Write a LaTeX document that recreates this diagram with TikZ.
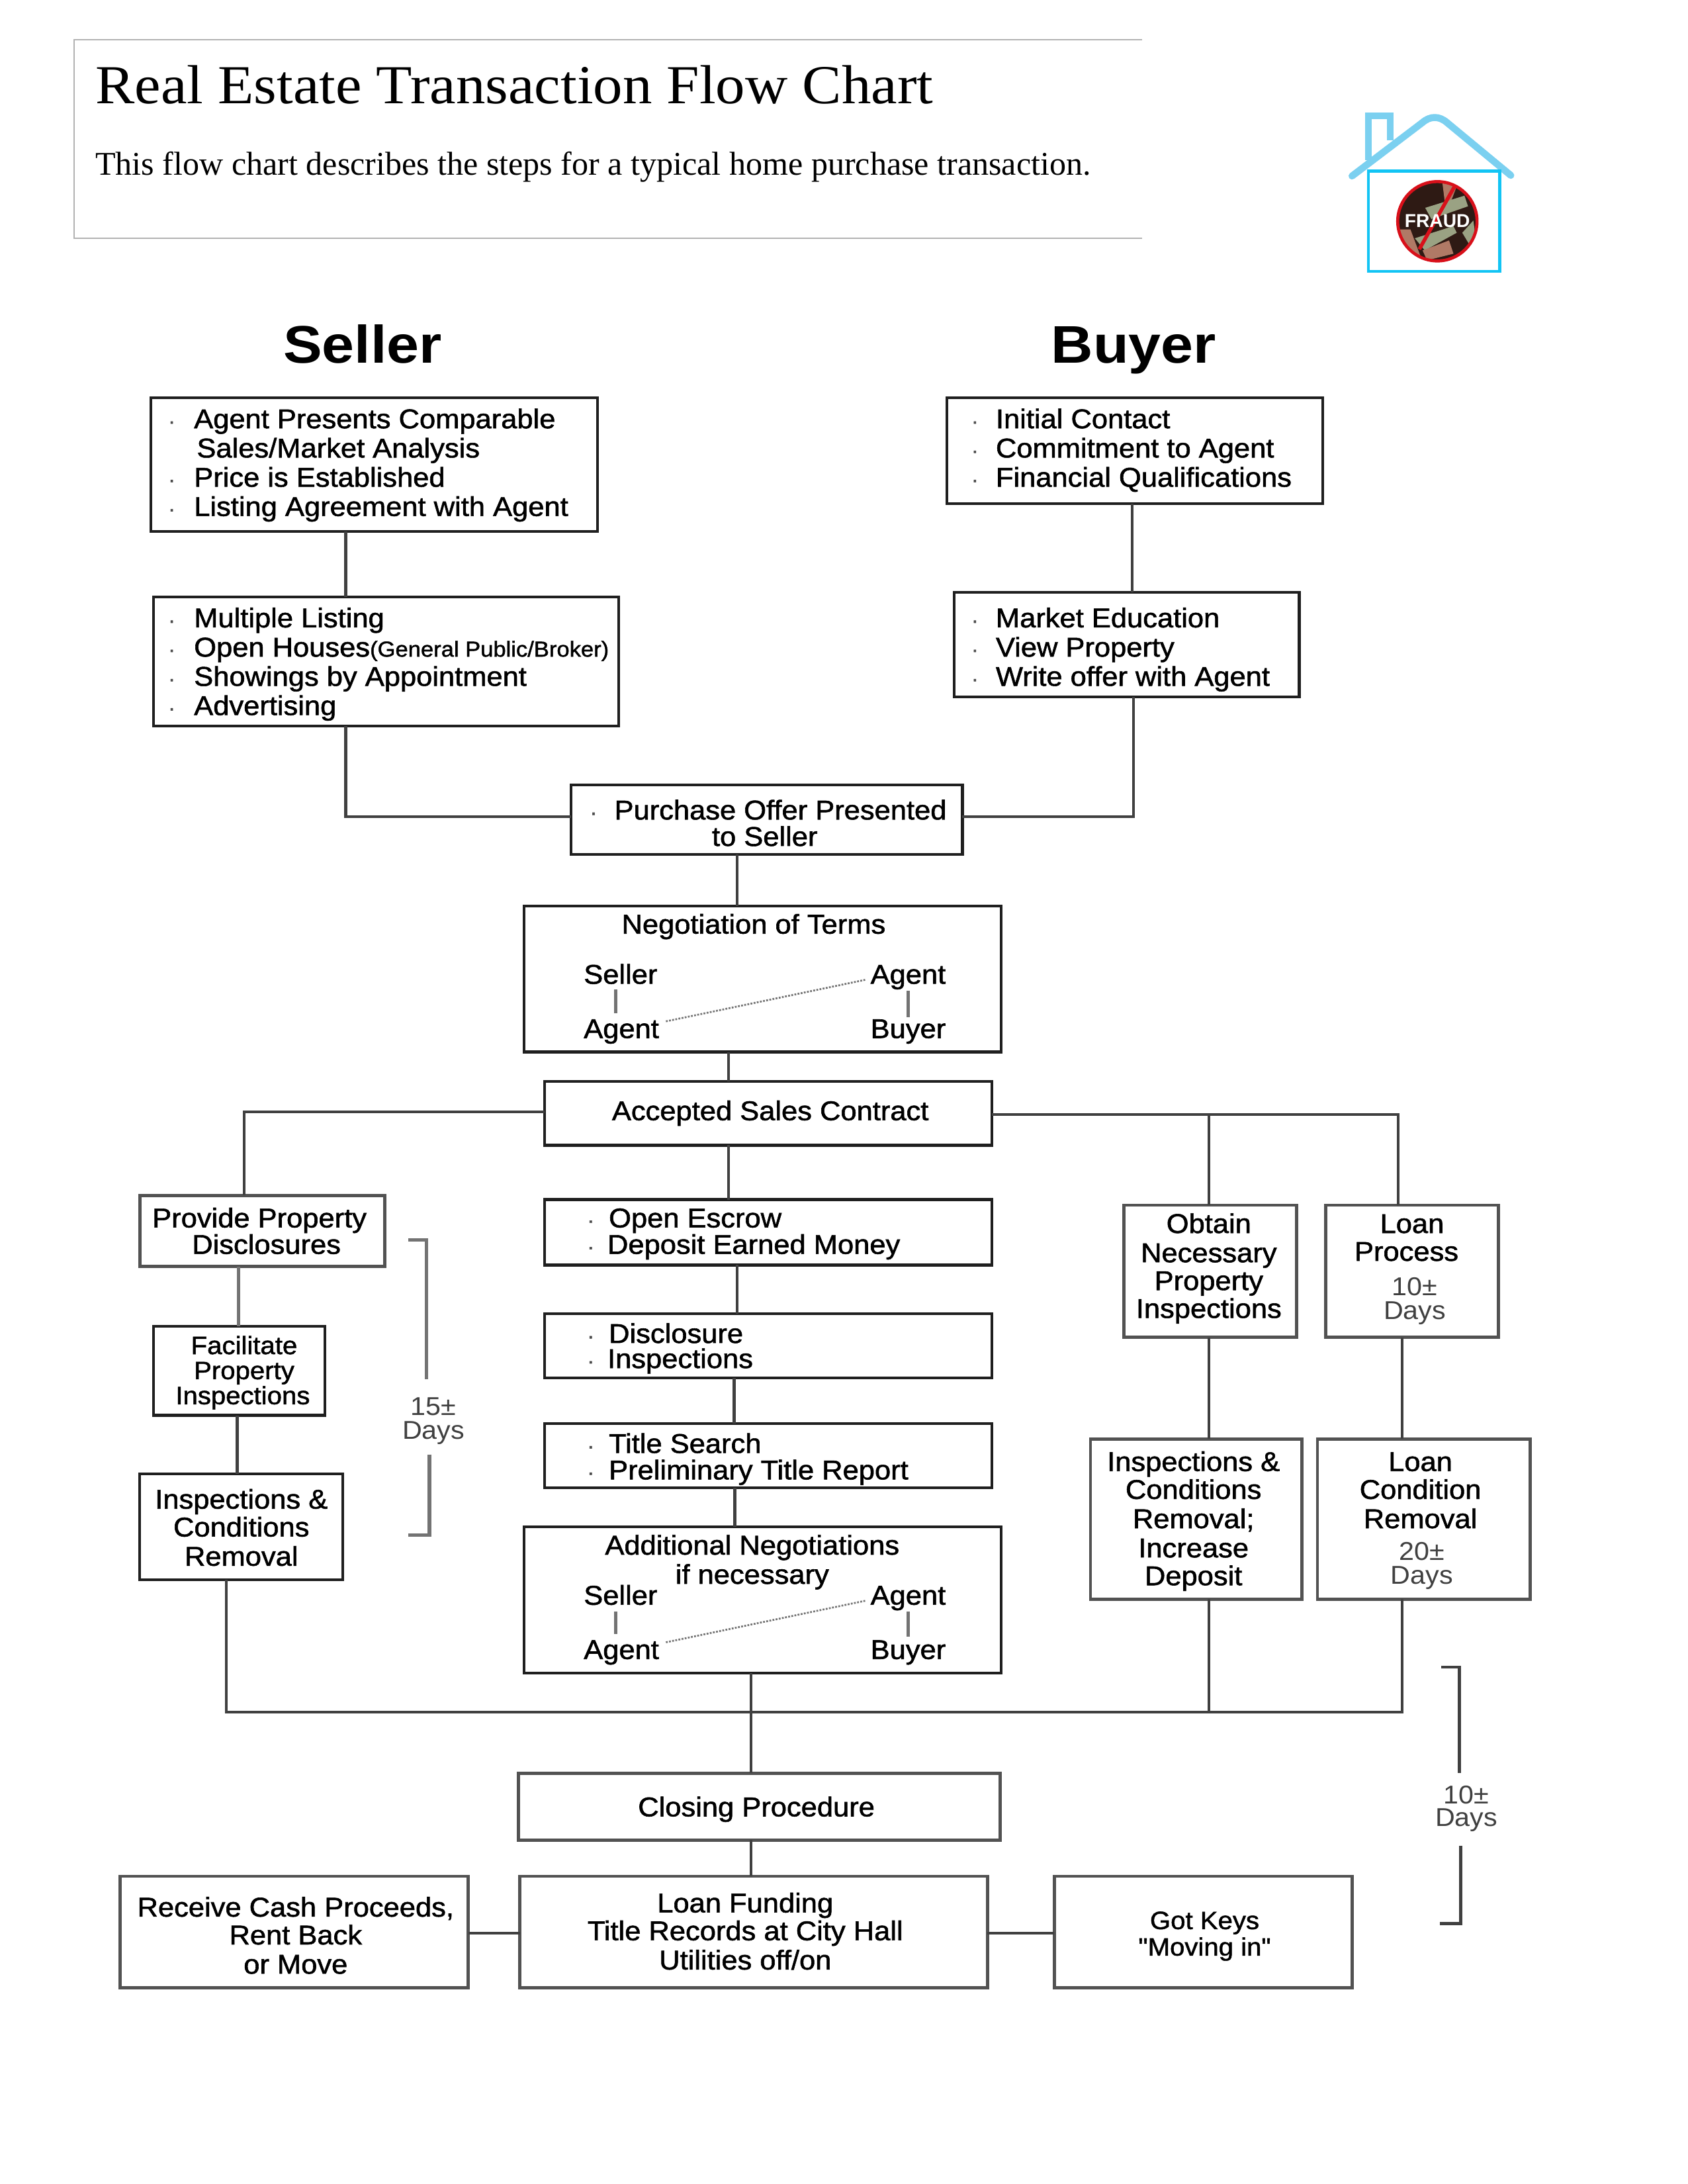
\documentclass[tikz,border=0pt]{standalone}
\usepackage{fontspec}
\setmainfont{Liberation Sans}
\newfontfamily\txt[FakeStretch=1.06,FakeBold=1.4]{Liberation Sans}
\newfontfamily\thin[FakeStretch=1.06]{Liberation Sans}
\newfontfamily\heavy[FakeStretch=1.1]{Liberation Sans Bold}
\newfontfamily\fr{Liberation Sans Bold}
\newfontfamily\cam{Liberation Serif}
\newfontfamily\camw[FakeStretch=1.07]{Liberation Serif}
\newcommand{\fs}[1]{\fontsize{#1}{#1}\selectfont}
\newcounter{tn}
\newcommand{\tl}[3]{\stepcounter{tn}\node[lab,anchor=base west] (t\arabic{tn}) at (#1,#2) {#3};}
\newcommand{\tc}[3]{\stepcounter{tn}\node[lab,anchor=base] (t\arabic{tn}) at (#1,#2) {#3};}
\newcommand{\tg}[3]{\stepcounter{tn}\node[lab,anchor=base,text=black!75,font=\thin\fs{18.5}] (t\arabic{tn}) at (#1,#2) {#3};}
\newcommand{\dotb}[2]{\stepcounter{tn}\node[lab,anchor=base,text=black!70,font=\txt\fs{15}] (t\arabic{tn}) at (#1,#2) {·};}
\newcommand{\bx}[6][]{\node[boxs,minimum width=#5-#3,minimum height=#6-#4,#1] (#2) at ({(#3+#5)/2},{(#4+#6)/2}) {};}
\definecolor{roofc}{HTML}{7BD0F0}
\definecolor{wallc}{HTML}{12C4F4}
\definecolor{ringc}{HTML}{D8101A}
\definecolor{billc}{HTML}{9AA283}
\definecolor{skinc}{HTML}{B07A66}
\definecolor{darkc}{HTML}{2E1A14}
\tikzset{
 lab/.style={inner sep=0pt,outer sep=0pt,font=\txt\fs{19.5},text=black},
 boxs/.style={draw=black!88,line width=2pt,inner sep=0pt,outer sep=0pt,fill=white},
 gbox/.style={draw=black!68,line width=2.2pt},
 conn/.style={draw=black!75,line width=2pt},
 conng/.style={draw=black!55,line width=2.6pt}
}
\begin{document}
\begin{tikzpicture}[x=1pt,y=-1pt]
\useasboundingbox (-0.4,-0.6) rectangle (1211.8,1568.1);
% header
\coordinate (h0) at (820,28); \coordinate (h1) at (53,28);
\coordinate (h2) at (53,170.5); \coordinate (h3) at (820,170.5);
\draw[draw=black!30,line width=0.9pt] (h0) -- (h1) -- (h2) -- (h3);
\node[inner sep=0pt,anchor=base west,font=\camw\fs{39.5}] (title) at (68,74) {Real Estate Transaction Flow Chart};
\node[inner sep=0pt,anchor=base west,font=\cam\fs{23.8}] (sub) at (68,125) {This flow chart describes the steps for a typical home purchase transaction.};
% house
\begin{scope}[shift={(926.5,61.2)},x=0.15845pt,y=-0.15845pt]
\draw[roofc,line width=5pt] (355,335) -- (355,135) -- (453,135) -- (453,245);
\draw[roofc,line width=5pt,line cap=round,line join=round] (280,408) -- (600,165) .. controls (635,135) and (675,135) .. (710,165) -- (1000,405);
\draw[wallc,line width=2.1pt] (355,385) rectangle (950,840);
\begin{scope}
\clip (667,613) circle [radius=28.5pt];
\fill[darkc] (480,430) rectangle (860,800);
\fill[skinc] (490,650) -- (545,650) -- (590,770) -- (530,770) -- cycle;
\fill[skinc] (690,440) -- (760,440) -- (730,520) -- (700,520) -- cycle;
\fill[billc] (612,552) -- (790,497) -- (806,545) -- (640,603) -- cycle;
\fill[billc] (565,690) -- (740,635) -- (755,665) -- (610,745) -- cycle;
\fill[billc] (780,665) -- (830,610) -- (840,680) -- (810,715) -- cycle;
\fill[skinc] (600,745) -- (720,700) -- (740,760) -- (620,790) -- cycle;
\end{scope}
\draw[ringc,line width=2.2pt] (667,613) circle [radius=28.5pt];
\draw[ringc,line width=2.6pt] (745,455) -- (585,740);
\node[inner sep=0pt,text=white,font=\fr\fs{13.4}] (fraud) at (667,613) {FRAUD};
\end{scope}
% heads
\node[inner sep=0pt,anchor=base,font=\heavy\fs{38}] (hs) at (260,260) {Seller};
\node[inner sep=0pt,anchor=base,font=\heavy\fs{38}] (hb) at (814,260) {Buyer};
% boxes
\bx{S1}{108}{285}{429}{381}
\bx{S2}{110}{428}{444}{521}
\bx{B1}{680}{285}{950}{361}
\bx{B2}{685}{425}{933}{500}
\bx{P}{410}{563}{691}{613}
\bx{N}{376}{650}{719}{755}
\bx{A}{391}{776}{712}{822}
\bx[gbox]{D1}{100}{858}{276}{909}
\bx{D2}{110}{952}{233}{1016}
\bx{D3}{100}{1058}{246}{1134}
\bx{C1}{391}{861}{712}{908}
\bx{C2}{391}{943}{712}{989}
\bx{C3}{391}{1022}{712}{1068}
\bx{AN}{376}{1096}{719}{1201}
\bx[gbox]{O}{807}{865}{931}{960}
\bx[gbox]{L}{952}{865}{1076}{960}
\bx[gbox]{IC}{783}{1033}{935}{1148}
\bx[gbox]{LC}{946}{1033}{1099}{1148}
\bx[gbox]{CP}{372}{1273}{718}{1321}
\bx[gbox]{LF}{373}{1347}{709}{1427}
\bx[gbox]{RC}{86}{1347}{336}{1427}
\bx[gbox]{GK}{757}{1347}{971}{1427}
% connectors
\coordinate (sl) at (248,586); \coordinate (bl) at (814,586);
\coordinate (al) at (175,798); \coordinate (ar) at (1004,800); \coordinate (am) at (868,800);
\coordinate (busl) at (162,1229); \coordinate (busr) at (1007,1229);
\coordinate (busa) at (539,1229); \coordinate (busb) at (868,1229);
\draw[conn] (S1.south -| 248,0) -- (S2.north -| 248,0);
\draw[conn] (S2.south -| 248,0) -- (sl) -- (P.west |- sl);
\draw[conn] (B1.south -| 813,0) -- (B2.north -| 813,0);
\draw[conn] (B2.south -| 814,0) -- (bl) -- (P.east |- bl);
\draw[conn] (P.south -| 529,0) -- (N.north -| 529,0);
\draw[conn] (N.south -| 523,0) -- (A.north -| 523,0);
\draw[conn] (A.west |- al) -- (al) -- (D1.north -| al);
\draw[conn] (A.east |- ar) -- (ar) -- (L.north -| ar);
\draw[conn] (am) -- (O.north -| am);
\draw[conn] (A.south -| 523,0) -- (C1.north -| 523,0);
\draw[conn] (C1.south -| 529,0) -- (C2.north -| 529,0);
\draw[conn] (C2.south -| 527,0) -- (C3.north -| 527,0);
\draw[conn] (C3.south -| 527.5,0) -- (AN.north -| 527.5,0);
\draw[conng] (D1.south -| 171,0) -- (D2.north -| 171,0);
\draw[conn] (D2.south -| 170,0) -- (D3.north -| 170,0);
\draw[conn] (O.south -| 868,0) -- (IC.north -| 868,0);
\draw[conn] (L.south -| 1007,0) -- (LC.north -| 1007,0);
\draw[conn] (D3.south -| busl) -- (busl) -- (busr) -- (LC.south -| busr);
\draw[conn] (IC.south -| busb) -- (busb);
\draw[conn] (AN.south -| busa) -- (CP.north -| busa);
\draw[conn] (CP.south -| 539,0) -- (LF.north -| 539,0);
\draw[conn] (LF.west |- 0,1388) -- (RC.east |- 0,1388);
\draw[conn] (LF.east |- 0,1388) -- (GK.west |- 0,1388);
% brackets
\coordinate (a1) at (293,890); \coordinate (a2) at (306,890); \coordinate (a3) at (306,990);
\coordinate (a4) at (308,1044); \coordinate (a5) at (308,1102); \coordinate (a6) at (293,1102);
\draw[conng] (a1) -- (a2) -- (a3);
\draw[conng] (a4) -- (a5) -- (a6);
\coordinate (e1) at (1035,1197); \coordinate (e2) at (1048,1197); \coordinate (e3) at (1048,1273);
\coordinate (e4) at (1049,1325); \coordinate (e5) at (1049,1381); \coordinate (e6) at (1034,1381);
\draw[conn] (e1) -- (e2) -- (e3);
\draw[conn] (e4) -- (e5) -- (e6);
\tg{311}{1016}{15±}\tg{311}{1033}{Days}
\tg{1053}{1295}{10±}\tg{1053}{1311}{Days}
% texts seller
\dotb{123}{307}\tl{139}{307}{Agent Presents Comparable}
\tl{141}{328}{Sales/Market Analysis}
\dotb{123}{349}\tl{139}{349}{Price is Established}
\dotb{123}{370}\tl{139}{370}{Listing Agreement with Agent}
\dotb{123}{450}\tl{139}{450}{Multiple Listing}
\dotb{123}{471}\tl{139}{471}{Open Houses{\fs{15.5}(General Public/Broker)}}
\dotb{123}{492}\tl{139}{492}{Showings by Appointment}
\dotb{123}{513}\tl{139}{513}{Advertising}
% buyer
\dotb{700}{307}\tl{715}{307}{Initial Contact}
\dotb{700}{328}\tl{715}{328}{Commitment to Agent}
\dotb{700}{349}\tl{715}{349}{Financial Qualifications}
\dotb{700}{450}\tl{715}{450}{Market Education}
\dotb{700}{471}\tl{715}{471}{View Property}
\dotb{700}{492}\tl{715}{492}{Write offer with Agent}
% purchase
\dotb{426}{588}\tl{441}{588}{Purchase Offer Presented}
\tc{549}{607}{to Seller}
% negotiation
\tc{541}{670}{Negotiation of Terms}
\tl{419}{706}{Seller}\tl{625}{706}{Agent}
\tl{419}{745}{Agent}\tl{625}{745}{Buyer}
\coordinate (n1) at (442,710); \coordinate (n2) at (442,727);
\coordinate (n3) at (652,711); \coordinate (n4) at (652,730);
\coordinate (n5) at (478,733); \coordinate (n6) at (622,703);
\draw[conng] (n1) -- (n2); \draw[conng] (n3) -- (n4);
\draw[black!55,line width=1.3pt,densely dotted] (n5) -- (n6);
\tc{553}{804}{Accepted Sales Contract}
% left
\tc{186}{881}{Provide Property}\tc{191}{900}{Disclosures}
\begin{scope}[lab/.append style={font=\txt\fs{18}}]
\tc{175}{972}{Facilitate}\tc{175}{990}{Property}\tc{174}{1008}{Inspections}
\tc{865}{1385}{Got Keys}\tc{865}{1404}{"Moving in"}
\end{scope}
\tc{173}{1083}{Inspections \&}\tc{173}{1103}{Conditions}\tc{173}{1124}{Removal}
% center
\dotb{424}{881}\tl{437}{881}{Open Escrow}
\dotb{424}{900}\tl{436}{900}{Deposit Earned Money}
\dotb{424}{964}\tl{437}{964}{Disclosure}
\dotb{424}{982}\tl{436}{982}{Inspections}
\dotb{424}{1043}\tl{437}{1043}{Title Search}
\dotb{424}{1062}\tl{437}{1062}{Preliminary Title Report}
\tc{540}{1116}{Additional Negotiations}\tc{540}{1137}{if necessary}
\tl{419}{1152}{Seller}\tl{625}{1152}{Agent}
\tl{419}{1191}{Agent}\tl{625}{1191}{Buyer}
\coordinate (m1) at (442,1157); \coordinate (m2) at (442,1173);
\coordinate (m3) at (652,1157); \coordinate (m4) at (652,1175);
\coordinate (m5) at (478,1179); \coordinate (m6) at (622,1149);
\draw[conng] (m1) -- (m2); \draw[conng] (m3) -- (m4);
\draw[black!55,line width=1.3pt,densely dotted] (m5) -- (m6);
% right
\tc{868}{885}{Obtain}\tc{868}{906}{Necessary}\tc{868}{926}{Property}\tc{868}{946}{Inspections}
\tc{1014}{885}{Loan}\tc{1010}{905}{Process}
\tg{1016}{930}{10±}\tg{1016}{947}{Days}
\tc{857}{1056}{Inspections \&}\tc{857}{1076}{Conditions}\tc{857}{1097}{Removal;}\tc{857}{1118}{Increase}\tc{857}{1138}{Deposit}
\tc{1020}{1056}{Loan}\tc{1020}{1076}{Condition}\tc{1020}{1097}{Removal}
\tg{1021}{1120}{20±}\tg{1021}{1137}{Days}
% bottom
\tc{543}{1304}{Closing Procedure}
\tc{535}{1373}{Loan Funding}\tc{535}{1393}{Title Records at City Hall}\tc{535}{1414}{Utilities off/on}
\tc{212}{1376}{Receive Cash Proceeds,}\tc{212}{1396}{Rent Back}\tc{212}{1417}{or Move}
\end{tikzpicture}
\end{document}
